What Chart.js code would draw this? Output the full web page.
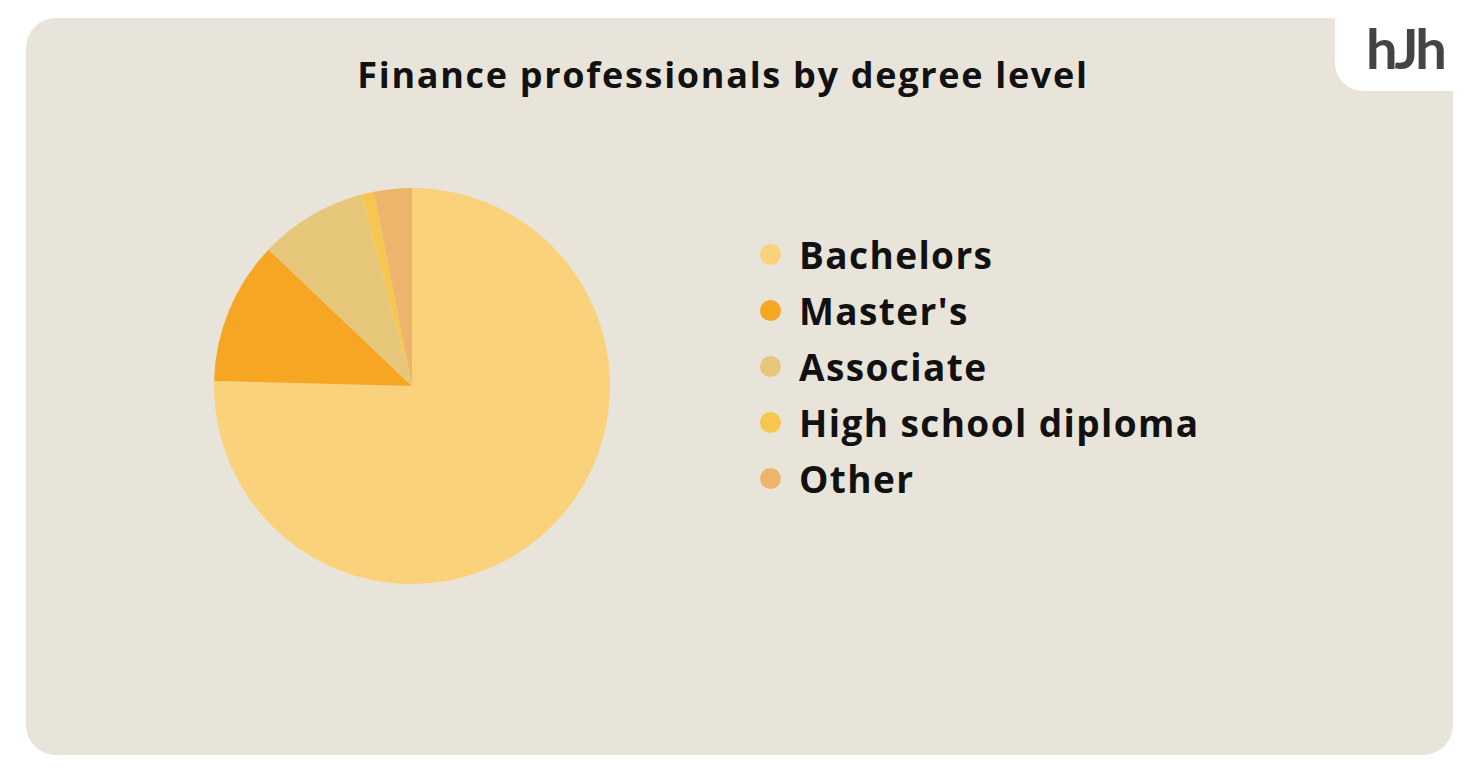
<!DOCTYPE html>
<html>
<head>
<meta charset="utf-8">
<script src="https://cdn.jsdelivr.net/npm/chart.js@4"></script>
<style>
  html, body { margin: 0; padding: 0; background: #ffffff; }
  body { width: 1480px; height: 774px; position: relative; overflow: hidden; font-family: "Open Sans", sans-serif; }
  #card { position: absolute; left: 26px; top: 18px; width: 1427px; height: 737px; background: #e8e4da; border-radius: 30px; }
  #notch { position: absolute; left: 1335px; top: 0; width: 145px; height: 91px; background: #ffffff; border-bottom-left-radius: 28px; }
  #logo { position: absolute; left: 1366px; top: 14px; font-family: "Lato", sans-serif; font-weight: 700; font-size: 56px; color: #444444; letter-spacing: -3px; }
  #title { position: absolute; left: 0; width: 1446px; top: 50px; text-align: center; font-family: "Open Sans", sans-serif; font-weight: 700; font-size: 36px; letter-spacing: 1.7px; color: #111; }
  #pieBox { position: absolute; left: 214px; top: 188px; width: 396px; height: 396px; }
  #legend { position: absolute; left: 760px; top: 226px; margin: 0; padding: 0; list-style: none; }
  #legend li { height: 56px; display: flex; align-items: center; font-weight: 700; font-size: 37px; letter-spacing: 1.4px; color: #111; }
  #legend .dot { width: 21px; height: 21px; border-radius: 50%; margin-right: 18px; }
</style>
</head>
<body>
<div id="card"></div>
<div id="notch"></div>
<div id="logo">hJh</div>
<div id="title">Finance professionals by degree level</div>
<div id="pieBox"><canvas id="pie"></canvas></div>
<ul id="legend"></ul>
<script>
const categories = ["Bachelors", "Master's", "Associate", "High school diploma", "Other"];
const shares = [75.4, 11.7, 8.8, 1.0, 3.1];
const colors = ["#f9d27b", "#f6a623", "#e6c77a", "#f7c64e", "#edb56c"];

const legend = document.getElementById("legend");
categories.forEach((name, i) => {
  const li = document.createElement("li");
  li.innerHTML = `<span class="dot" style="background:${colors[i]}"></span>${name}`;
  legend.appendChild(li);
});

new Chart(document.getElementById("pie"), {
  type: "pie",
  data: {
    labels: categories,
    datasets: [{
      data: shares,
      backgroundColor: colors,
      borderWidth: 0
    }]
  },
  options: {
    responsive: true,
    maintainAspectRatio: false,
    animation: false,
    layout: { padding: 0 },
    plugins: {
      legend: { display: false },
      tooltip: { enabled: false }
    }
  }
});
</script>
</body>
</html>
